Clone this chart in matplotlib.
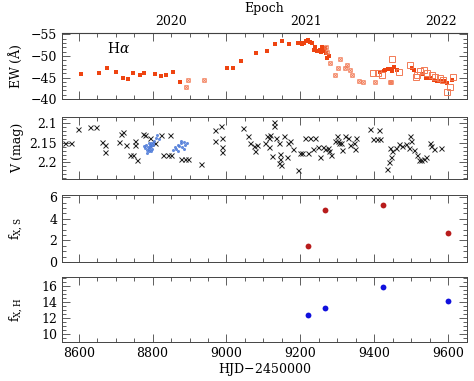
import matplotlib
matplotlib.use("Agg")
import matplotlib.pyplot as plt
from matplotlib.ticker import MultipleLocator

plt.rcParams['font.family'] = ['DejaVu Serif']
plt.rcParams['mathtext.fontset'] = 'dejavuserif'

# ---- Panel 1: H-alpha EW ----
ew_filled_x = [8606, 8655, 8676, 8701, 8719, 8733, 8748, 8765, 8777, 8807, 8823, 8837, 8854, 8873,
               9001, 9019, 9040, 9081, 9111, 9132, 9150, 9169, 9195, 9200, 9205, 9211, 9216, 9220,
               9222, 9225, 9232, 9236, 9240, 9245, 9252, 9255, 9260, 9265, 9268, 9270, 9273, 9277,
               9417, 9426, 9430, 9438, 9442, 9448, 9453, 9462,
               9503, 9507, 9530, 9539, 9548, 9554, 9561, 9570, 9579, 9588, 9597, 9611]
ew_filled_y = [-45.8, -45.95, -47.1, -46.3, -44.8, -44.6, -45.95, -45.7, -45.95, -45.8, -45.4, -45.7, -46.3, -44.0,
               -47.1, -47.3, -48.8, -50.7, -51.1, -52.7, -53.5, -52.7, -52.9, -53.0, -52.75, -53.1, -53.5, -53.8,
               -53.6, -53.3, -52.9, -51.5, -52.0, -51.1, -51.5, -51.0, -52.0, -51.2, -51.8, -50.6, -49.5, -50.0,
               -46.3, -46.6, -46.7, -46.9, -46.95, -46.6, -47.5, -46.7,
               -47.1, -46.7, -45.8, -45.0, -44.8, -44.8, -44.4, -44.2, -44.25, -44.2, -43.8, -44.4]

ew_open_x = [9397, 9410, 9420, 9448, 9466, 9496, 9512, 9516, 9525, 9534, 9543, 9557, 9566, 9578, 9587,
             9597, 9606, 9614]
ew_open_y = [-45.95, -46.1, -45.5, -49.4, -46.3, -47.9, -45.2, -45.6, -46.6, -46.7, -45.95, -45.6, -45.2, -44.8, -44.4,
             -41.7, -42.7, -45.2]

ew_cross_x = [8891, 8897, 8940, 9270, 9272, 9281, 9295, 9301, 9308, 9322, 9326, 9334, 9340, 9358, 9370,
              9403, 9442, 9445]
ew_cross_y = [-42.7, -44.4, -44.5, -52.0, -51.0, -48.3, -45.7, -47.1, -49.4, -47.1, -47.9, -46.7, -45.6, -44.2, -43.9,
              -44.0, -44.0, -44.0]

# ---- Panel 2: V magnitude ----
v_black_x = [8563, 8578, 8597, 8630, 8646, 8662, 8671, 8671, 8710, 8719, 8715, 8728, 8753, 8753, 8739, 8748,
             8759, 8773, 8780, 8792, 8807, 8823, 8828, 8843, 8849, 8847, 8877, 8889, 8896, 8932, 8970, 8970,
             8985, 8989, 8989, 8989, 9046, 9057, 9065, 9074, 9078, 9083, 9105, 9109, 9116, 9114, 9118, 9123,
             9128, 9128, 9134, 9141, 9145, 9145, 9141, 9148, 9157, 9163, 9168, 9172, 9181, 9193, 9199, 9204,
             9213, 9222, 9226, 9235, 9240, 9249, 9253, 9262, 9267, 9276, 9278, 9283, 9298, 9301, 9305, 9309,
             9312, 9321, 9330, 9334, 9346, 9348, 9352, 9390, 9397, 9412, 9408, 9417, 9435, 9440, 9445, 9443,
             9449, 9458, 9467, 9476, 9485, 9494, 9496, 9499, 9507, 9516, 9521, 9528, 9534, 9541, 9550, 9554,
             9563, 9581, 9295]
v_black_y = [2.150, 2.150, 2.115, 2.111, 2.111, 2.148, 2.155, 2.174, 2.148, 2.124, 2.127, 2.157, 2.147, 2.155,
             2.180, 2.180, 2.193, 2.127, 2.131, 2.137, 2.152, 2.131, 2.181, 2.181, 2.181, 2.131, 2.192, 2.192,
             2.192, 2.205, 2.119, 2.145, 2.108, 2.137, 2.161, 2.174, 2.112, 2.132, 2.150, 2.159, 2.172, 2.157,
             2.150, 2.132, 2.137, 2.161, 2.130, 2.183, 2.107, 2.098, 2.139, 2.150, 2.178, 2.190, 2.201, 2.207,
             2.132, 2.185, 2.150, 2.145, 2.166, 2.220, 2.176, 2.176, 2.139, 2.176, 2.139, 2.166, 2.139, 2.161,
             2.185, 2.161, 2.166, 2.163, 2.172, 2.181, 2.132, 2.145, 2.150, 2.150, 2.168, 2.132, 2.139, 2.157,
             2.150, 2.166, 2.139, 2.115, 2.141, 2.119, 2.141, 2.141, 2.216, 2.198, 2.185, 2.163, 2.172, 2.163,
             2.154, 2.159, 2.154, 2.163, 2.132, 2.145, 2.168, 2.181, 2.194, 2.194, 2.190, 2.185, 2.150, 2.159,
             2.166, 2.163, 2.145]

v_blue_x = [8777, 8780, 8783, 8785, 8787, 8789, 8790, 8792, 8794, 8795, 8797, 8799, 8800, 8802, 8785,
            8790, 8796, 8804, 8808, 8812, 8818,
            8855, 8860, 8864, 8868, 8872, 8876, 8880, 8884, 8888, 8892, 8870, 8878, 8886]
v_blue_y = [2.158, 2.163, 2.155, 2.168, 2.160, 2.150, 2.165, 2.157, 2.162, 2.152, 2.158, 2.166, 2.155, 2.150, 2.175,
            2.172, 2.170, 2.145, 2.138, 2.130, 2.140,
            2.168, 2.160, 2.165, 2.155, 2.158, 2.150, 2.162, 2.148, 2.155, 2.152, 2.172, 2.145, 2.165]

# ---- Panel 3 & 4: X-ray fluxes ----
fxs_x = [9222, 9267, 9423, 9601]
fxs_y = [1.45, 4.8, 5.3, 2.7]
fxh_x = [9222, 9267, 9423, 9601]
fxh_y = [12.4, 13.2, 15.9, 14.15]

epoch_labels = ['2020', '2021', '2022']
epoch_hjd = [8849.5, 9215.5, 9580.5]

xlim = (8555, 9651)

fig = plt.figure(figsize=(4.74, 3.81), dpi=100)
L, W = 0.131, 0.854
ax1 = fig.add_axes([L, 0.740, W, 0.173])
ax2 = fig.add_axes([L, 0.530, W, 0.163])
ax3 = fig.add_axes([L, 0.312, W, 0.176])
ax4 = fig.add_axes([L, 0.102, W, 0.171])

orange = '#ee4411'
light = '#f27a55'

ax1.plot(ew_filled_x, ew_filled_y, 's', color=orange, ms=3.4, mew=0)
ax1.plot(ew_open_x, ew_open_y, 's', mfc='none', mec=light, ms=3.8, mew=0.7)
ax1.plot(ew_cross_x, ew_cross_y, marker=r'$\boxtimes$', ls='none', color=light, ms=3.0, mew=0.2)
ax1.set_ylim(-40, -55.3)
ax1.yaxis.set_major_locator(MultipleLocator(5))
ax1.yaxis.set_minor_locator(MultipleLocator(1))
ax1.set_ylabel(r'EW ($\mathrm{\AA}$)', fontsize=9)
ax1.text(8677, -50.7, r'H$\alpha$', fontsize=10)

ax2.plot(v_black_x, v_black_y, 'x', color='#222222', ms=3.6, mew=0.7)
ax2.plot(v_blue_x, v_blue_y, 'o', color='#4a78d8', ms=2.2, mew=0, alpha=0.85)
ax2.set_ylim(2.242, 2.085)
ax2.yaxis.set_major_locator(MultipleLocator(0.05))
ax2.yaxis.set_minor_locator(MultipleLocator(0.01))
ax2.set_yticks([2.1, 2.15, 2.2])
ax2.set_yticklabels(['2.1', '2.15', '2.2'])
ax2.set_ylabel('V (mag)', fontsize=9)

ax3.plot(fxs_x, fxs_y, 'o', color='#b81c1c', ms=4.2, mew=0)
ax3.set_ylim(0, 6.2)
ax3.yaxis.set_major_locator(MultipleLocator(2))
ax3.yaxis.set_minor_locator(MultipleLocator(0.5))
ax3.set_ylabel(r'f$_{\mathrm{X,S}}$', fontsize=9)

ax4.plot(fxh_x, fxh_y, 'o', color='#1010dd', ms=4.2, mew=0)
ax4.set_ylim(9, 17.1)
ax4.yaxis.set_major_locator(MultipleLocator(2))
ax4.yaxis.set_minor_locator(MultipleLocator(0.5))
ax4.set_ylabel(r'f$_{\mathrm{X,H}}$', fontsize=9)
ax4.set_xlabel('HJD$-$2450000', fontsize=9, labelpad=1)

for ax in (ax1, ax2, ax3, ax4):
    ax.set_xlim(*xlim)
    ax.xaxis.set_major_locator(MultipleLocator(200))
    ax.xaxis.set_minor_locator(MultipleLocator(50))
    ax.tick_params(which='both', direction='in', top=True, right=True, labelsize=9,
                   color='#444444', width=0.6)
    ax.tick_params(which='major', length=5.5)
    ax.tick_params(which='minor', length=3)
    for s in ax.spines.values():
        s.set_linewidth(0.7)
        s.set_color('#444444')
    if ax is not ax4:
        ax.tick_params(labelbottom=False)
    ax.yaxis.set_label_coords(-0.095, 0.5)

sec = ax1.secondary_xaxis('top')
sec.set_xticks(epoch_hjd)
sec.set_xticklabels(epoch_labels)
sec.tick_params(length=0, labelsize=9, pad=4)
sec.set_xlabel('Epoch', fontsize=9, labelpad=2)

fig.savefig('out.png', dpi=100)
